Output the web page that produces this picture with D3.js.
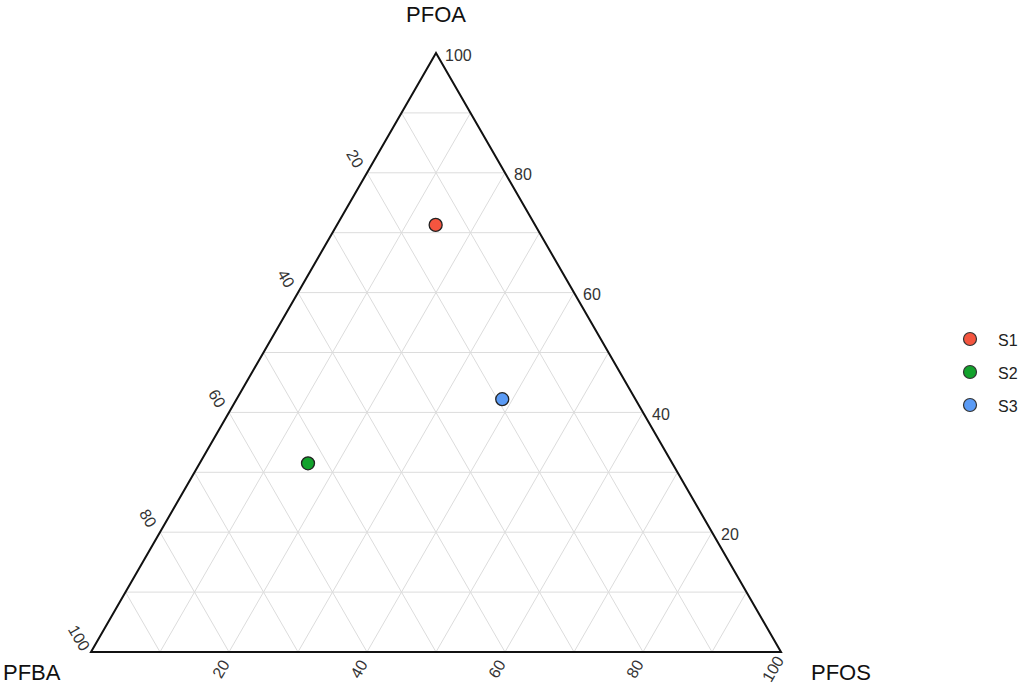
<!DOCTYPE html>
<html>
<head>
<meta charset="utf-8">
<script src="https://cdn.jsdelivr.net/npm/d3@7"></script>
<style>
  body { margin: 0; background: #fff; }
  svg { display: block; font-family: "Liberation Sans", Arial, sans-serif; }
</style>
</head>
<body>
<svg id="chart" width="1024" height="685"></svg>
<script>
// samples and compositions (%)
const samples = ["S1", "S2", "S3"];
const pfoa = [71.3, 31.5, 42.2];
const pfba = [14.4, 52.8, 19.3];
const pfos = [14.3, 15.7, 38.5];
const colors = ["#f4553f", "#12a22c", "#5b9bf5"];
const tickValues = [20, 40, 60, 80, 100];
const gridValues = [10, 20, 30, 40, 50, 60, 70, 80, 90];

const svg = d3.select("#chart");

// corners: apex = PFOA, bottom-left = PFBA, bottom-right = PFOS
const cornerA = [436, 53], cornerB = [91, 652], cornerC = [781, 652];
const frac = d3.scaleLinear().domain([0, 100]).range([0, 1]);

function project(a, b, c) {
    const fa = frac(a), fb = frac(b), fc = frac(c);
    const s = fa + fb + fc;
    return [
        (fa * cornerA[0] + fb * cornerB[0] + fc * cornerC[0]) / s,
        (fa * cornerA[1] + fb * cornerB[1] + fc * cornerC[1]) / s
    ];
}

const grid = svg.append("g").attr("class", "grid");
gridValues.forEach(v => {
    const lines = [
        [project(v, 100 - v, 0), project(v, 0, 100 - v)],
        [project(0, v, 100 - v), project(100 - v, v, 0)],
        [project(0, 100 - v, v), project(100 - v, 0, v)]
    ];
    lines.forEach(l => {
        grid.append("line")
            .attr("x1", l[0][0]).attr("y1", l[0][1])
            .attr("x2", l[1][0]).attr("y2", l[1][1])
            .attr("stroke", "#dcdcdc")
            .attr("stroke-width", 1);
    });
});

svg.append("path")
    .attr("d", d3.line()([cornerA, cornerB, cornerC]) + "Z")
    .attr("fill", "none")
    .attr("stroke", "#111")
    .attr("stroke-width", 2);

// tick labels
const tickStyle = sel => sel
    .attr("font-size", 16)
    .attr("fill", "#333")
    .attr("dominant-baseline", "central");

// PFOA on right edge
tickValues.forEach(v => {
    const p = project(v, 0, 100 - v);
    svg.append("text")
        .attr("x", p[0] + 9).attr("y", p[1] + 2)
        .text(v)
        .call(tickStyle);
});

// PFBA on left edge
tickValues.forEach(v => {
    const p = project(100 - v, v, 0);
    svg.append("text")
        .attr("transform", `translate(${p[0] - 12},${p[1] - 14}) rotate(60)`)
        .attr("text-anchor", "middle")
        .text(v)
        .call(tickStyle);
});

// PFOS on bottom edge
tickValues.forEach(v => {
    const p = project(0, 100 - v, v);
    svg.append("text")
        .attr("transform", `translate(${p[0] - 8},${p[1] + 17}) rotate(-60)`)
        .attr("text-anchor", "middle")
        .text(v)
        .call(tickStyle);
});

// axis titles
const titleStyle = sel => sel.attr("font-size", 22).attr("fill", "#111");
svg.append("text").attr("x", 436).attr("y", 22).attr("text-anchor", "middle").text("PFOA").call(titleStyle);
svg.append("text").attr("x", 3).attr("y", 680).text("PFBA").call(titleStyle);
svg.append("text").attr("x", 811).attr("y", 680).text("PFOS").call(titleStyle);

// points
svg.append("g")
    .selectAll("circle")
    .data(samples)
    .join("circle")
    .attr("cx", (d, i) => project(pfoa[i], pfba[i], pfos[i])[0])
    .attr("cy", (d, i) => project(pfoa[i], pfba[i], pfos[i])[1])
    .attr("r", 6.5)
    .attr("fill", (d, i) => colors[i])
    .attr("stroke", "#222")
    .attr("stroke-width", 1.3);

// legend
const legendY = d3.scalePoint().domain(samples).range([339, 405]);
const legend = svg.append("g");
legend.selectAll("circle")
    .data(samples)
    .join("circle")
    .attr("cx", 970)
    .attr("cy", d => legendY(d))
    .attr("r", 6.5)
    .attr("fill", (d, i) => colors[i])
    .attr("stroke", "#333")
    .attr("stroke-width", 1.2);
legend.selectAll("text")
    .data(samples)
    .join("text")
    .attr("x", 998)
    .attr("y", d => legendY(d) + 1)
    .attr("font-size", 16)
    .attr("fill", "#222")
    .attr("dominant-baseline", "central")
    .text(d => d);
</script>
</body>
</html>
